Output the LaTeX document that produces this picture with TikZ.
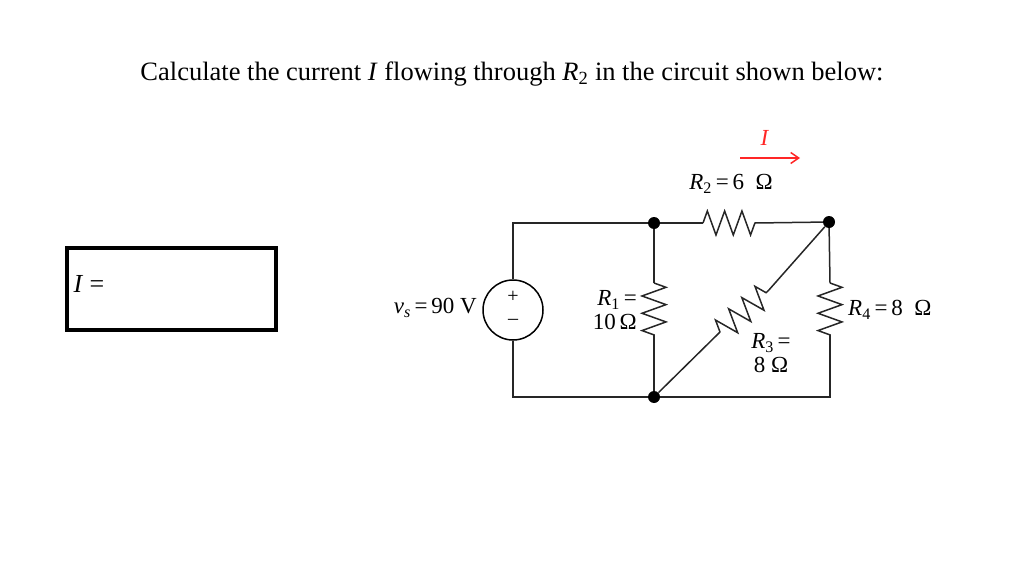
\documentclass[tikz,border=0pt]{standalone}
\usepackage{fontspec}
\setmainfont{Liberation Serif}
\usetikzlibrary{decorations.pathmorphing,arrows.meta}

\begin{document}
\begin{tikzpicture}[
    x=1pt, y=-1pt,
    wire/.style={line width=1.5pt, black!85},
    res/.style={wire, decorate, decoration={zigzag, segment length=17.3pt, amplitude=12pt}},
    dot/.style={circle, fill=black, inner sep=0pt, minimum size=12pt},
    lbl/.style={font=\fontsize{23}{24}\selectfont, inner sep=1pt}
]
\useasboundingbox (0,0) rectangle (1024,580);

% Title
\node[font=\fontsize{26.5}{28}\selectfont] (title) at (512,74) {Calculate the current \textit{I} flowing through \textit{R}\textsubscript{2} in the circuit shown below:};

% Answer box
\node[draw, line width=4pt, minimum width=209pt, minimum height=82pt] (box) at (171,289) {};
\node[font=\fontsize{26}{28}\selectfont, anchor=west] (ans) at (70,284) {\textit{I} =};

% Junctions
\node[dot] (a) at (654,223) {};
\node[dot] (b) at (829,222) {};
\node[dot] (c) at (654,397) {};
\coordinate (tl) at (513,223);
\coordinate (bl) at (513,397);
\coordinate (br) at (830,397);

% Source
\node[circle, draw, line width=1.5pt, minimum size=60pt, inner sep=0pt] (vs) at (513,310) {};
\node[font=\fontsize{20}{20}\selectfont] (plus) at (513,297) {+};
\node[font=\fontsize{20}{20}\selectfont] (minus) at (513,322) {--};
\node[lbl, anchor=east] (vslbl) at (478,308) {\textit{v\textsubscript{s}}\,=\,90 V};

% Resistor ends
\coordinate (r2s) at (703,223); \coordinate (r2e) at (755,223);
\coordinate (r1s) at (654,283); \coordinate (r1e) at (654,335);
\coordinate (r4s) at (830,283); \coordinate (r4e) at (830,335);
\coordinate (r3s) at (720,332); \coordinate (r3e) at (768,291);

% Wires
\draw[wire] (vs.north) -- (tl) -- (a) -- (r2s);
\draw[wire] (r2e) -- (b);
\draw[wire] (vs.south) -- (bl) -- (c) -- (br) -- (r4e);
\draw[wire] (b) -- (r4s);
\draw[wire] (a) -- (r1s);
\draw[wire] (r1e) -- (c);
\draw[wire] (c) -- (r3s);
\draw[wire] (r3e) -- (b);

% Resistors
\draw[res] (r2s) -- (r2e);
\draw[res] (r1s) -- (r1e);
\draw[res] (r4s) -- (r4e);
\draw[res] (r3s) -- (r3e);

% Labels
\node[lbl] (r2lbl) at (731,184) {\textit{R}\textsubscript{2}\,=\,6\ \ Ω};
\node[lbl, align=right, anchor=east] (r1lbl) at (638,310) {\textit{R}\textsubscript{1}\,=\\10\,Ω};
\node[lbl, align=center] (r3lbl) at (771,353) {\textit{R}\textsubscript{3}\,=\\8\ Ω};
\node[lbl, anchor=west] (r4lbl) at (847,310) {\textit{R}\textsubscript{4}\,=\,8\ \ Ω};

% Current arrow
\coordinate (ia) at (740,158);
\coordinate (ib) at (800,158);
\draw[red!85, line width=1.5pt, -{Straight Barb[length=8pt, width=11pt]}] (ia) -- (ib);
\node[lbl, red!85] (ilbl) at (765,138) {\textit{I}};
\end{tikzpicture}
\end{document}
